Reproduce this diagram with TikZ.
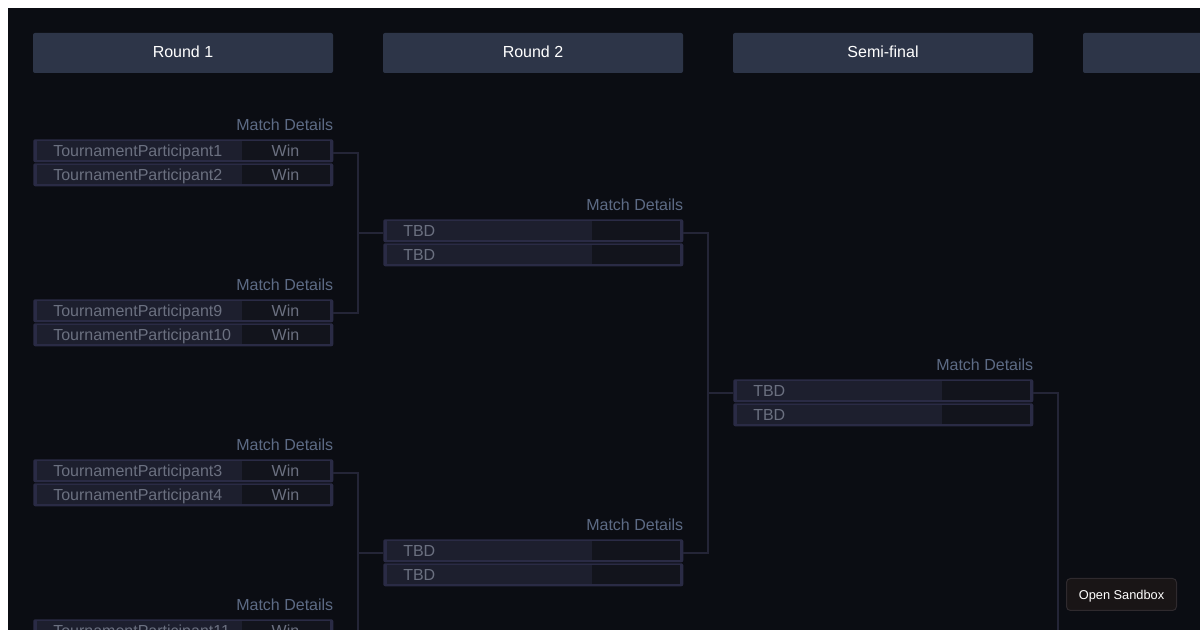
\documentclass[tikz,border=0pt]{standalone}
\usepackage{fontspec}
\setmainfont{Liberation Sans}
\usetikzlibrary{positioning}

\definecolor{pagebg}{HTML}{0B0D13}
\definecolor{headbg}{HTML}{2D3548}
\definecolor{rowedge}{HTML}{2A2B45}
\definecolor{namebg}{HTML}{1D1F2E}
\definecolor{scorebg}{HTML}{12141C}
\definecolor{linkcol}{HTML}{242537}
\definecolor{detailcol}{HTML}{5D6B85}
\definecolor{rowtext}{HTML}{6B7080}
\definecolor{sandboxbg}{HTML}{191516}
\definecolor{sandboxedge}{HTML}{2F2A2E}

% name, left, top, player, score
\newcommand{\matchrow}[5]{
  \node (#1) at (#2,#3) [matchrow] {};
  \node (#1n) at ([xshift=3pt,yshift=-1.5pt]#1.north west) [namecell] {\hspace*{12pt}#4};
  \node (#1s) [scorecell,right=-.5pt of #1n] {#5\hspace*{.75pt}};
}

\begin{document}
\begin{tikzpicture}
[x=.75pt,y=-.75pt,font=\fontsize{12}{14}\selectfont,
 head/.style={fill=headbg,rounded corners=1.5pt,text=white,inner sep=0pt,
   minimum width=225pt,text height=18.4pt,text depth=11.6pt},
 matchrow/.style={fill=rowedge,rounded corners=1.5pt,anchor=north west,inner sep=0pt,
   minimum width=225pt,minimum height=17.25pt},
 namecell/.style={fill=namebg,text=rowtext,anchor=north west,inner sep=0pt,align=left,
   text width=153.75pt,text height=11.25pt,text depth=3pt},
 scorecell/.style={fill=scorebg,text=rowtext,inner sep=0pt,align=center,
   text width=65.75pt,text height=11.25pt,text depth=3pt},
 detail/.style={text=detailcol,anchor=base east,inner sep=0pt},
 link/.style={draw=linkcol,line width=.9pt},
 sandbox/.style={fill=sandboxbg,draw=sandboxedge,line width=.75pt,rounded corners=3pt,text=white,
   inner sep=0pt,font=\fontsize{9.6}{12}\selectfont,
   minimum width=82.5pt,text height=15.4pt,text depth=8.6pt}]

\clip (0,0) rectangle (1200,630);
\fill[white] (0,0) rectangle (1200,630);
\fill[pagebg] (8,8) rectangle (1200,630);

\node (h1) at (183,53) [head] {Round 1};
\node (h2) at (533,53) [head] {Round 2};
\node (h3) at (883,53) [head] {Semi-final};
\node (h4) at (1233,53) [head] {};

\node (d1) at (333.5,130.7) [detail] {Match Details};
\matchrow{m1a}{33}{139}{TournamentParticipant1}{Win}
\matchrow{m1b}{33}{163}{TournamentParticipant2}{Win}

\node (d2) at (333.5,290.7) [detail] {Match Details};
\matchrow{m2a}{33}{299}{TournamentParticipant9}{Win}
\matchrow{m2b}{33}{323}{TournamentParticipant10}{Win}

\node (d3) at (333.5,450.7) [detail] {Match Details};
\matchrow{m3a}{33}{459}{TournamentParticipant3}{Win}
\matchrow{m3b}{33}{483}{TournamentParticipant4}{Win}

\node (d4) at (333.5,610.7) [detail] {Match Details};
\matchrow{m4a}{33}{619}{TournamentParticipant11}{Win}

\node (d5) at (683.5,210.7) [detail] {Match Details};
\matchrow{n1a}{383}{219}{TBD}{}
\matchrow{n1b}{383}{243}{TBD}{}

\node (d6) at (683.5,530.7) [detail] {Match Details};
\matchrow{n2a}{383}{539}{TBD}{}
\matchrow{n2b}{383}{563}{TBD}{}

\node (d7) at (1033.5,370.7) [detail] {Match Details};
\matchrow{s1a}{733}{379}{TBD}{}
\matchrow{s1b}{733}{403}{TBD}{}

\coordinate (m1out) at (333,153);
\coordinate (m2out) at (333,313);
\coordinate (m3out) at (333,473);
\coordinate (m4out) at (333,633);
\coordinate (n1in) at (383,233);
\coordinate (n1out) at (683,233);
\coordinate (n2in) at (383,553);
\coordinate (n2out) at (683,553);
\coordinate (s1in) at (733,393);
\coordinate (s1out) at (1033,393);
\coordinate (j1) at (358,233);
\coordinate (j2) at (358,553);
\coordinate (j3) at (708,393);
\coordinate (j4) at (1058,713);

\draw[link] (m1out) -| (j1) |- (m2out);
\draw[link] (j1) -- (n1in);
\draw[link] (m3out) -| (j2) |- (m4out);
\draw[link] (j2) -- (n2in);
\draw[link] (n1out) -| (j3) |- (n2out);
\draw[link] (j3) -- (s1in);
\draw[link] (s1out) -| (j4);

\node (open) at (1121.5,594.5) [sandbox] {Open Sandbox};
\end{tikzpicture}
\end{document}
